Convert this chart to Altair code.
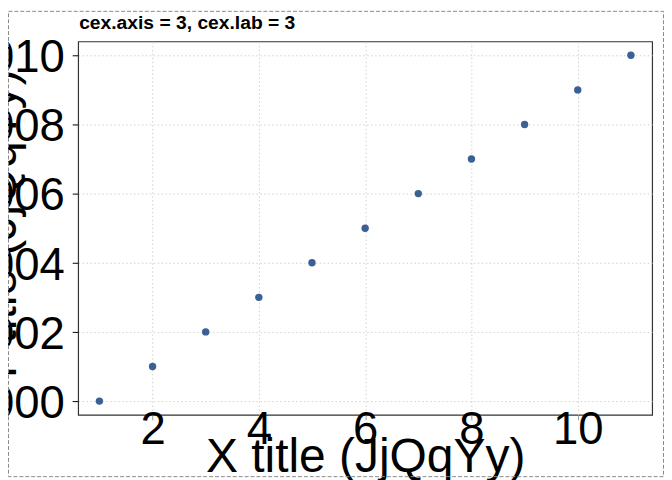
import altair as alt
import pandas as pd

# values
x_vals = [1, 2, 3, 4, 5, 6, 7, 8, 9, 10, 11]
y_vals = [1000, 1001, 1002, 1003, 1004, 1005, 1006, 1007, 1008, 1009, 1010]
x_ticks = [2, 4, 6, 8, 10]
y_ticks = [1000, 1002, 1004, 1006, 1008, 1010]

FONT = "Liberation Sans, Arial, Helvetica, sans-serif"

df = pd.DataFrame({"x": x_vals, "y": y_vals})

points = alt.Chart(df).mark_circle(size=56, color="#3b6096", opacity=1).encode(
    x=alt.X(
        "x:Q",
        scale=alt.Scale(domain=[0.6, 11.4], nice=False, zero=False),
        axis=alt.Axis(
            values=x_ticks, format="d",
            grid=True, gridColor="#d0d0d0", gridDash=[1.5, 2.5], gridWidth=1,
            domain=False, tickSize=5, tickColor="#999999",
            labelFont=FONT, labelFontSize=46, labelColor="black",
            labelBaseline="alphabetic", labelPadding=24,
            labelOverlap=False, labelFlush=False,
            title="X title (JjQqYy)", titleFont=FONT, titleFontSize=48.5,
            titleFontWeight="normal", titleColor="black",
            titleBaseline="alphabetic", titleAlign="center",
            titleX=290.5, titleY=57.5,
        ),
    ),
    y=alt.Y(
        "y:Q",
        scale=alt.Scale(domain=[999.6, 1010.4], nice=False, zero=False),
        axis=alt.Axis(
            values=y_ticks, format="d",
            grid=True, gridColor="#d0d0d0", gridDash=[1.5, 2.5], gridWidth=1,
            domain=False, tickSize=6, tickColor="black",
            labelFont=FONT, labelFontSize=46, labelColor="black",
            labelAlign="right", labelBaseline="alphabetic",
            labelOffset=16.5, labelPadding=8,
            labelOverlap=False, labelFlush=False,
            title="Y title (JjQqYy)", titleFont=FONT, titleFontSize=48.5,
            titleFontWeight="normal", titleColor="black",
            titleAngle=270, titleBaseline="alphabetic", titleAlign="center",
            titleX=-63, titleY=189,
        ),
    ),
)

# dashed frame round the whole figure
border = alt.Chart(pd.DataFrame({"b": [0]})).mark_rect(
    filled=False, stroke="#888888", strokeDash=[4, 2], strokeWidth=1
).encode(
    x=alt.value(-70.5), x2=alt.value(592.5),
    y=alt.value(-30.5), y2=alt.value(440.5),
)

# the frame sits above the plot, so the title offset is counted back from it
chart = alt.layer(points, border).properties(
    width=581,
    height=378,
    padding={"left": 71, "top": 31, "right": 12, "bottom": 63},
    autosize=alt.AutoSizeParams(type="none"),
    title=alt.TitleParams(
        text="cex.axis = 3, cex.lab = 3",
        anchor="start", frame="group",
        font=FONT, fontSize=19.5, fontWeight="bold", color="black",
        baseline="alphabetic", offset=-37.5, dx=1,
    ),
).configure_view(stroke="#333333", strokeWidth=1.2)

chart.save("out.html", embed_options={"renderer": "svg", "actions": False})
